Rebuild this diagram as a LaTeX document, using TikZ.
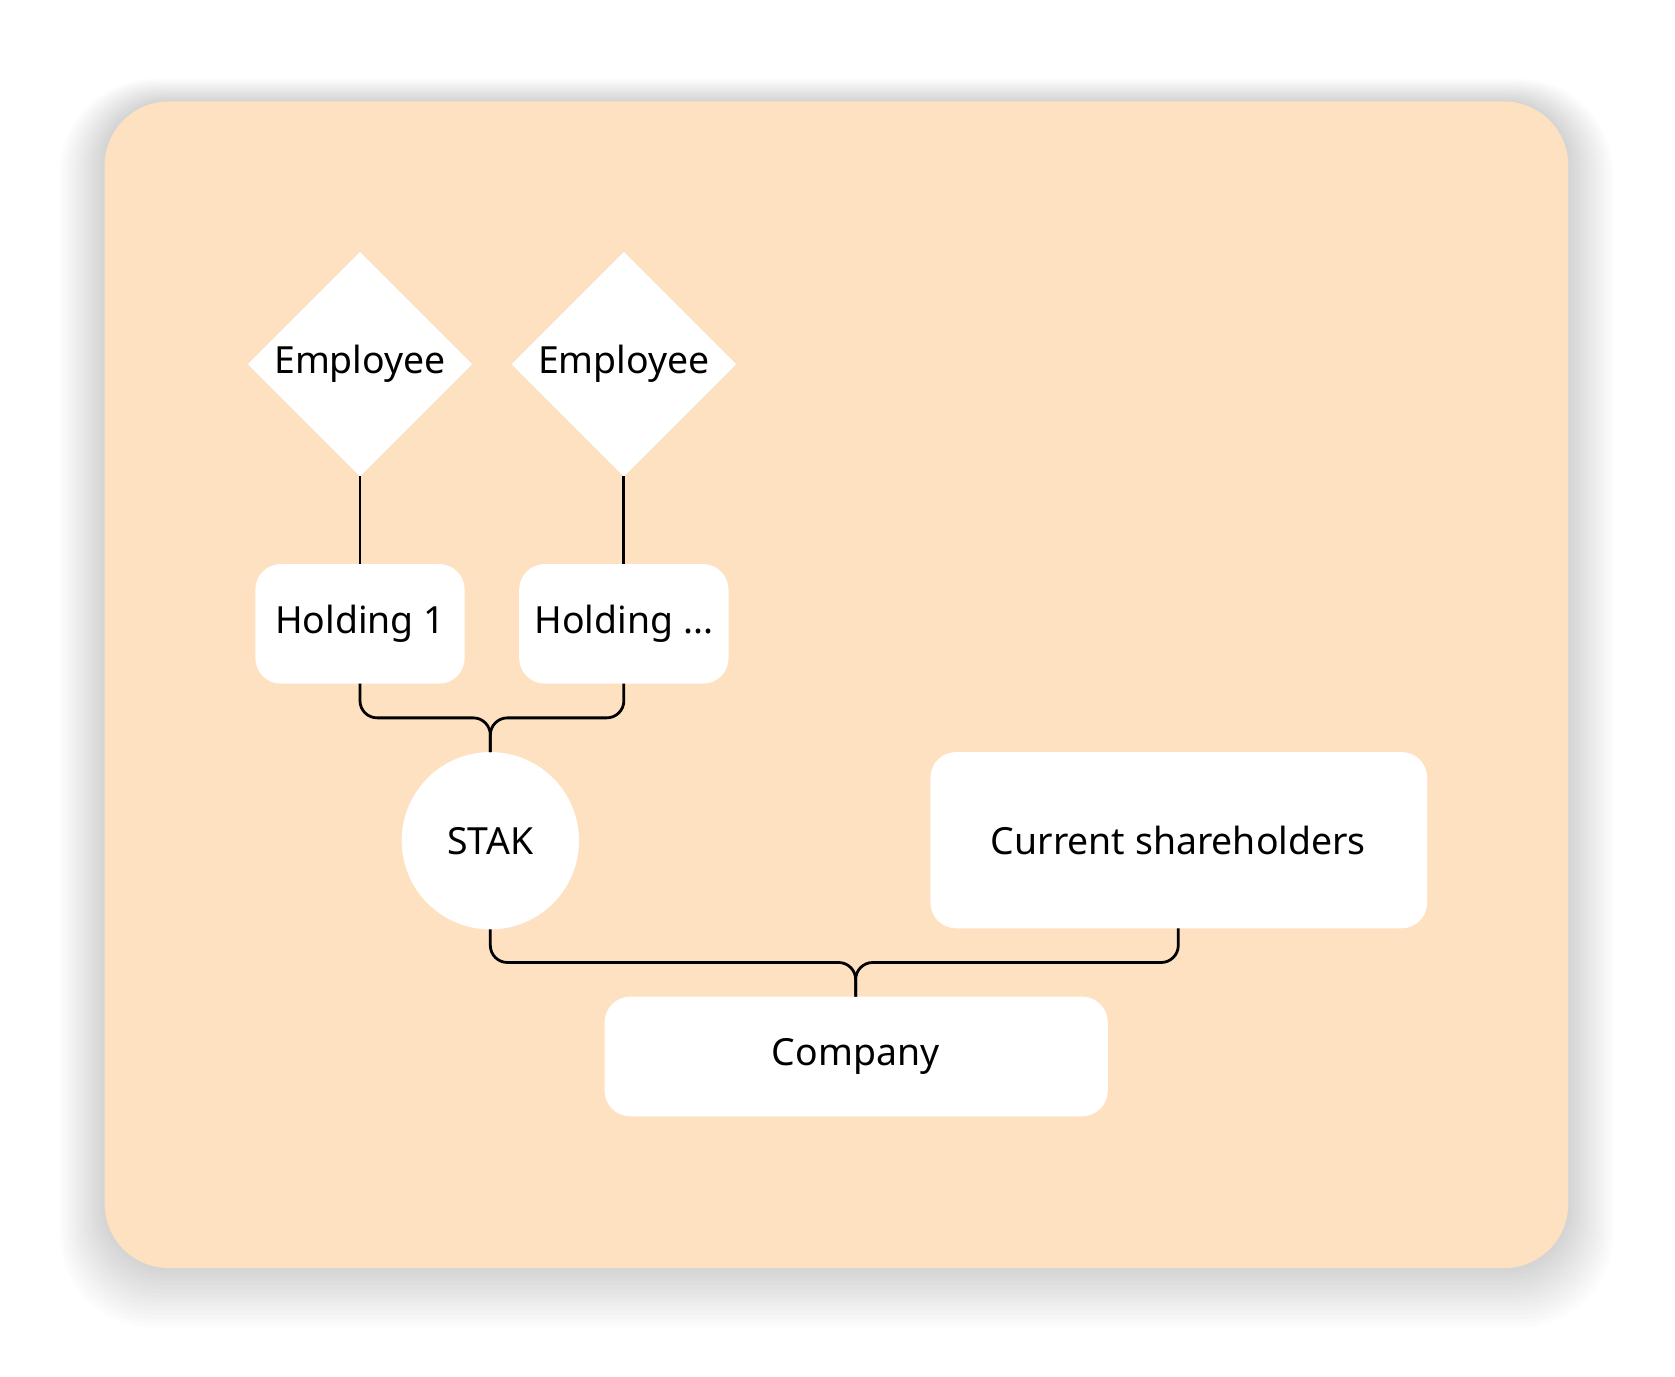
\documentclass[tikz,border=0pt]{standalone}
\usepackage{fontspec}
\setmainfont{Noto Sans}
\usetikzlibrary{shapes.geometric}
\definecolor{panel}{HTML}{FDE1C0}
\begin{document}
\begin{tikzpicture}[x=1pt,y=-1pt,
  box/.style={fill=white,rounded corners=24pt},
  lbl/.style={font=\fontsize{35}{40}\selectfont},
  conn/.style={line width=2.6pt,rounded corners=16pt}]
\useasboundingbox (0,0) rectangle (1568,1289);
\fill[white] (0,0) rectangle (1568,1289);
\foreach \i in {1,...,14}{
  \fill[black,opacity=0.012,rounded corners={60pt+2*\i pt}] (98-3*\i,95-1.5*\i) rectangle (1468+3*\i,1187+4*\i);
}
\fill[panel,rounded corners=60pt] (98,95) rectangle (1468,1187);
% diamonds
\fill[white] (337,236) -- (442,341) -- (337,446) -- (232,341) -- cycle;
\fill[white] (584,236) -- (689,341) -- (584,446) -- (479,341) -- cycle;
\node[lbl] (e1) at (337,341) {Employee};
\node[lbl] (e2) at (584,341) {Employee};
\coordinate (e1b) at (337,446);
\coordinate (e2b) at (584,446);
% holdings
\fill[box] (239,528) rectangle (435,640);
\fill[box] (486,528) rectangle (682,640);
\node[lbl] (h1) at (337,584) {Holding 1};
\node[lbl] (h2) at (584,584) {Holding ...};
\coordinate (h1t) at (337,528); \coordinate (h1b) at (337,640);
\coordinate (h2t) at (584,528); \coordinate (h2b) at (584,640);
% STAK
\fill[white] (459,787) circle (83);
\node[lbl] (stak) at (459,787) {STAK};
\coordinate (st) at (459,704); \coordinate (sb) at (459,870);
% current shareholders
\fill[box] (871,704) rectangle (1336,869);
\node[lbl] (cs) at (1103,787) {Current shareholders};
\coordinate (csb) at (1103,869);
% company
\fill[box] (566,933) rectangle (1037,1045);
\node[lbl] (co) at (801,989) {Company};
\coordinate (cot) at (801,933);
% connectors
\draw[line width=2.6pt] (e1b) -- (h1t);
\draw[line width=2.6pt] (e2b) -- (h2t);
\draw[conn] (h1b) |- (459,672) -- (st);
\draw[conn] (h2b) |- (459,672) -- (st);
\draw[conn] (sb) |- (801,901) -- (cot);
\draw[conn] (csb) |- (801,901) -- (cot);
\end{tikzpicture}
\end{document}
